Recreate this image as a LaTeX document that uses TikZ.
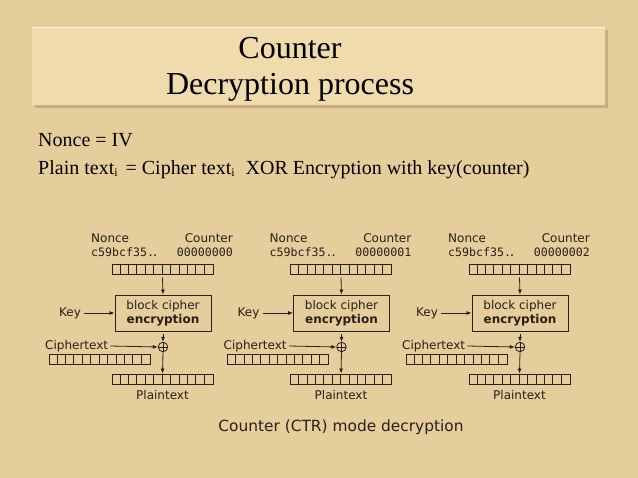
\documentclass[tikz,border=0pt]{standalone}
\usepackage{fontspec}
\setmainfont{Liberation Serif}
\newfontfamily\dv{DejaVu Sans}
\newfontfamily\dvm{DejaVu Sans Mono}
\usetikzlibrary{arrows.meta,calc}
\definecolor{bg}{HTML}{E6CD9C}
\definecolor{titlefill}{HTML}{EFDBAC}
\definecolor{ink}{HTML}{262019}
\definecolor{shadowc}{HTML}{B39A6C}
\tikzset{
  lbl/.style={font=\dv\fontsize{12}{13}\selectfont, text=ink, inner sep=0pt},
  hexlbl/.style={font=\dvm\fontsize{11.6}{13}\selectfont, text=ink, inner sep=0pt},
  reg/.style={draw=ink, line width=0.8pt, minimum width=101pt, minimum height=10pt, inner sep=0pt},
  cipherbox/.style={draw=ink, line width=0.9pt, minimum width=96pt, minimum height=36pt, inner sep=0pt, align=center, font=\dv\fontsize{12}{14.5}\selectfont, text=ink},
  xorc/.style={draw=ink, line width=0.8pt, circle, minimum size=9.5pt, inner sep=0pt,
     path picture={\draw[ink, line width=0.7pt] (path picture bounding box.north) -- (path picture bounding box.south)
                   (path picture bounding box.west) -- (path picture bounding box.east);}},
  arr/.style={draw=ink, line width=0.8pt, -{Latex[length=5pt,width=4pt]}},
  bodytext/.style={font=\fontsize{20}{23}\selectfont, text=black, inner sep=0pt, anchor=base west},
}
\newcommand{\cells}[1]{%
  \foreach \k in {1,...,11}{\draw[ink, line width=0.8pt] ($(#1.south west)+(\k*101/12,0)$) -- ($(#1.north west)+(\k*101/12,0)$);}}
\newcommand{\subi}{\raisebox{-1.5pt}{\fontsize{12}{12}\selectfont i}}
\begin{document}
\begin{tikzpicture}[x=1pt,y=-1pt]
\useasboundingbox (0,0) rectangle (638,478);
\fill[bg] (0,0) rectangle (638,478);
% title box
\fill[shadowc, opacity=0.6] (35,30) rectangle (608,108);
\fill[titlefill] (32,27) rectangle (605,105);
\draw[white, opacity=0.7, line width=1.2pt] (32,27.6) -- (605,27.6);
\node[font=\fontsize{32}{36}\selectfont, anchor=base, inner sep=0pt] (t1) at (290,59) {Counter};
\node[font=\fontsize{32}{36}\selectfont, anchor=base, inner sep=0pt] (t2) at (290,95) {Decryption process};
% body text
\node[bodytext] (b1) at (38,147) {Nonce = IV};
\node[bodytext] (b2) at (38,175) {Plain text\subi\hspace{0.4em}= Cipher text\subi\hspace{0.55em}XOR Encryption with key(counter)};
% units
\foreach \i/\ctr in {0/00000000,1/00000001,2/00000002}{
  \begin{scope}[xshift=\i*178.5pt]
    \node[lbl, anchor=west] (nonce\i) at (91,238) {Nonce};
    \node[lbl, anchor=east] (ctrl\i) at (233,238) {Counter};
    \node[hexlbl, anchor=west] (hex\i) at (91,252) {c59bcf35.\kern-2.5pt.};
    \node[hexlbl, anchor=east] (ctrv\i) at (233,252) {\ctr};
    \node[reg] (top\i) at (162.5,269) {};
    \cells{top\i}
    \node[cipherbox] (box\i) at (163,313) {block cipher\\[-1pt]\textbf{encryption}};
    \node[lbl] (key\i) at (70,313) {Key};
    \node[xorc] (xor\i) at (163,347) {};
    \node[lbl, anchor=west] (ct\i) at (45,346) {Ciphertext};
    \node[reg] (creg\i) at (99.5,359) {};
    \cells{creg\i}
    \node[reg] (preg\i) at (162.5,379) {};
    \cells{preg\i}
    \node[lbl] (pt\i) at (162.5,395) {Plaintext};
    \draw[arr] ([yshift=-3pt]top\i.south) -- (box\i.north);
    \draw[arr] ([xshift=3pt]key\i.east) -- (box\i.west);
    \draw[arr] ([yshift=-3pt]box\i.south) -- (xor\i.north);
    \draw[arr] ([xshift=2pt]ct\i.east) -- (xor\i.west);
    \draw[arr] (xor\i.south) -- (preg\i.north);
  \end{scope}
}
\node[font=\dv\fontsize{15.4}{18}\selectfont, text=ink, inner sep=0pt] (cap) at (341,427) {Counter (CTR) mode decryption};
\end{tikzpicture}
\end{document}
